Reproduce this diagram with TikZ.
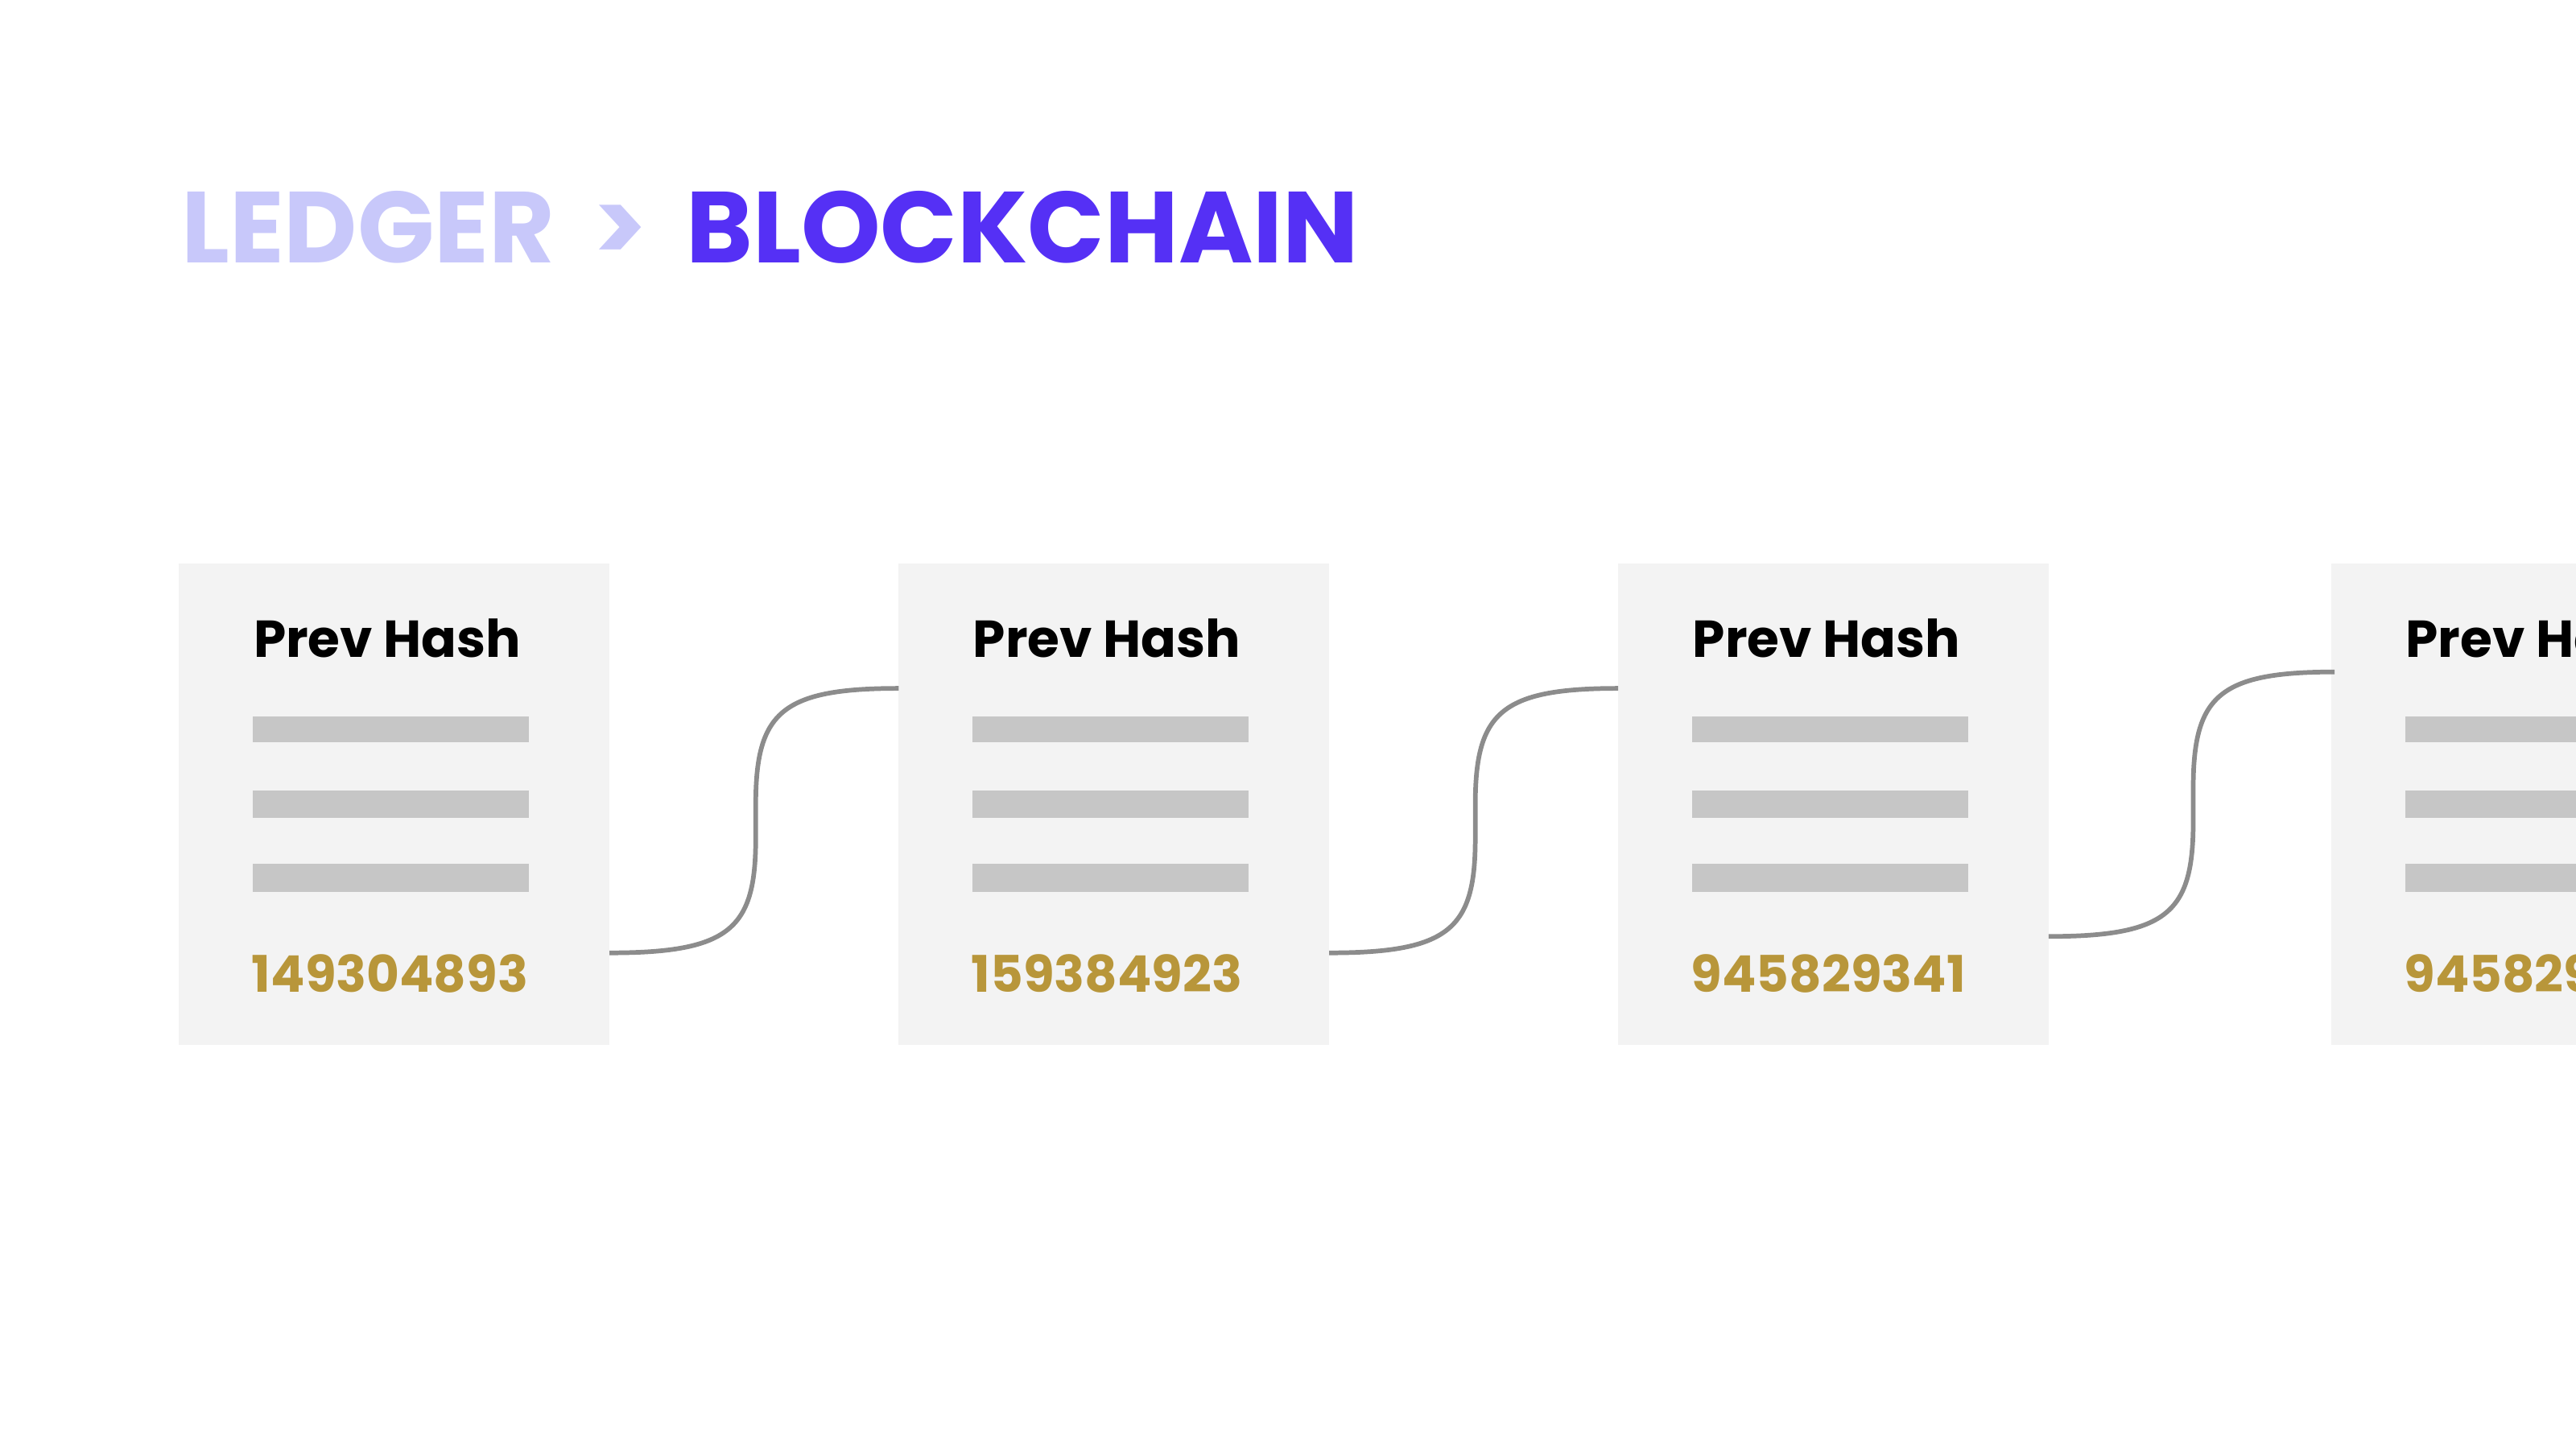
\documentclass[tikz,border=0pt]{standalone}
\usepackage{fontspec}
\setmainfont{Poppins}
\definecolor{ltitle}{HTML}{C8C8FA}
\definecolor{dtitle}{HTML}{5530F5}
\definecolor{boxbg}{HTML}{F3F3F3}
\definecolor{barc}{HTML}{C6C6C6}
\definecolor{gold}{HTML}{B8963A}
\definecolor{linec}{HTML}{8C8C8C}
\begin{document}
\begin{tikzpicture}[x=0.02cm,y=-0.02cm,
  blk/.style={fill=boxbg,draw=none},
  bar/.style={fill=barc,draw=none},
  lbl/.style={anchor=base west,inner sep=0,font=\fontsize{18}{20}\selectfont\bfseries},
  num/.style={anchor=base west,inner sep=0,text=gold,font=\fontsize{17.5}{20}\selectfont\bfseries},
  conn/.style={draw=linec,line width=1.6pt}]
\useasboundingbox (0,0) rectangle (1568,882);
\clip (0,0) rectangle (1568,882);
\node[anchor=base west,inner sep=0,font=\fontsize{35}{40}\selectfont\bfseries] (title) at (110,160) {\textcolor{ltitle}{LEDGER\, >}\, \textcolor{dtitle}{BLOCKCHAIN}};
\foreach \i/\x/\n in {1/109/149304893,2/547/159384923,3/985/945829341,4/1419/945829341}{
  \fill[blk] (\x,343) rectangle (\x+262,636);
  \node[lbl] (p\i) at (\x+45,400) {Prev Hash};
  \fill[bar] (\x+45,436) rectangle (\x+213,452);
  \fill[bar] (\x+45,481) rectangle (\x+213,498);
  \fill[bar] (\x+45,526) rectangle (\x+213,543);
  \node[num] (n\i) at (\x+44,604) {\n};
}
\coordinate (o1) at (371,580); \coordinate (i2) at (547,419);
\coordinate (o2) at (809,580); \coordinate (i3) at (985,419);
\coordinate (o3) at (1247,570); \coordinate (i4) at (1421,409);
\draw[conn] (o1) .. controls (445,580) and (460,565) .. (460,510) -- (460,490) .. controls (460,434) and (475,419) .. (i2);
\draw[conn] (o2) .. controls (883,580) and (898,565) .. (898,510) -- (898,490) .. controls (898,434) and (913,419) .. (i3);
\draw[conn] (o3) .. controls (1320,570) and (1335,555) .. (1335,500) -- (1335,480) .. controls (1335,424) and (1350,409) .. (i4);
\end{tikzpicture}
\end{document}
